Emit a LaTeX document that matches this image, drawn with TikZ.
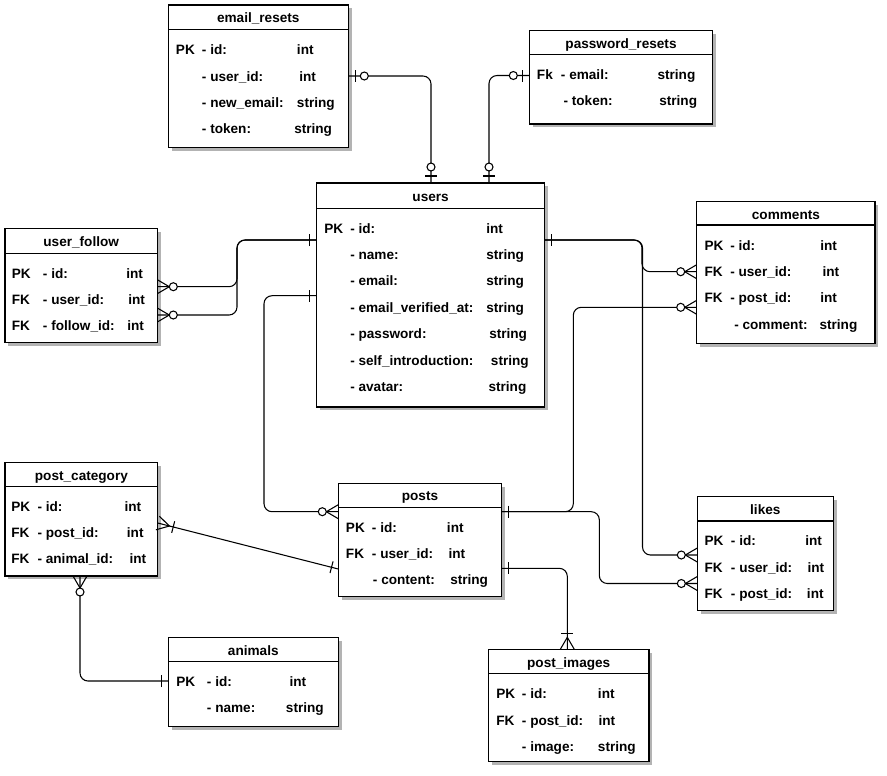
\documentclass[tikz,border=0pt]{standalone}
\usepackage{fontspec}
\setmainfont{Liberation Sans}
\usetikzlibrary{fit,shadows}
\newcommand\frow[8]{%
  \node[fld] (#1k) at (#3,#2) {#4};
  \node[fld] (#1f) at (#5,#2) {#6};
  \node[fld] (#1t) at (#7,#2) {#8};}
\begin{document}
\begin{tikzpicture}[x=0.75pt,y=-0.75pt,
  box/.style={draw=black, line width=1pt, fill=white, inner sep=0pt, outer sep=0pt,
    drop shadow={shadow xshift=2.5pt, shadow yshift=-2.5pt, opacity=0.4, fill=black!75}},
  sepline/.style={draw=black, line width=0.8pt},
  ttl/.style={anchor=base, inner sep=0pt, font=\bfseries\fontsize{10.2}{12}\selectfont},
  fld/.style={anchor=base west, inner sep=0pt, font=\bfseries\fontsize{10.2}{12}\selectfont},
  conn/.style={draw=black, line width=0.8pt, rounded corners=6pt},
  mk/.style={draw=black, line width=0.8pt},
  pics/one/.style={code={\draw[mk] (7,-6) -- (7,6);}},
  pics/zone/.style={code={\draw[mk] (7,-6) -- (7,6); \draw[mk, fill=white] (16,0) circle[radius=4];}},
  pics/zmany/.style={code={\draw[mk] (0,-7) -- (12,0) -- (0,7); \draw[mk, fill=white] (16,0) circle[radius=4];}},
  pics/omany/.style={code={\draw[mk] (0,-7) -- (12,0) -- (0,7); \draw[mk] (16,-6) -- (16,6);}},
]
\useasboundingbox (0,0) rectangle (887,775);

% ---------- tables ----------
\node[box, fit={(168.3,5) (348.3,147.7)}] (er) {};
\draw[sepline] (er.west |- 0,29.3) -- (er.east |- 0,29.3);
\node[ttl] (ert) at (258.3,22) {email\_resets};
\frow{er1}{54}{175.7}{PK}{201.7}{- id:}{296.7}{int}
\frow{er2}{81}{175.7}{}{201.7}{- user\_id:}{299}{int}
\frow{er3}{107}{175.7}{}{201.7}{- new\_email:}{296.7}{string}
\frow{er4}{133}{175.7}{}{201.7}{- token:}{294}{string}

\node[box, fit={(529.3,30.7) (712.7,124)}] (pr) {};
\draw[sepline] (pr.west |- 0,54.3) -- (pr.east |- 0,54.3);
\node[ttl] (prt) at (621,48.3) {password\_resets};
\frow{pr1}{79}{536.7}{Fk}{560.7}{- email:}{657.3}{string}
\frow{pr2}{105.7}{536.7}{}{563.3}{- token:}{659}{string}

\node[box, fit={(316.7,183) (544.5,407)}] (us) {};
\draw[sepline] (us.west |- 0,208.3) -- (us.east |- 0,208.3);
\node[ttl] (ust) at (430.6,201.7) {users};
\frow{us1}{233.3}{324}{PK}{350}{- id:}{486}{int}
\frow{us2}{259}{324}{}{350}{- name:}{486}{string}
\frow{us3}{285}{324}{}{350}{- email:}{486}{string}
\frow{us4}{312.7}{324}{}{350}{- email\_verified\_at:}{486}{string}
\frow{us5}{338.3}{324}{}{350}{- password:}{489}{string}
\frow{us6}{365.3}{324}{}{350}{- self\_introduction:}{490.7}{string}
\frow{us7}{391.7}{324}{}{350}{- avatar:}{488.3}{string}

\node[box, fit={(5,228.7) (157.3,342.3)}] (uf) {};
\draw[sepline] (uf.west |- 0,253.3) -- (uf.east |- 0,253.3);
\node[ttl] (uft) at (81.2,246.7) {user\_follow};
\frow{uf1}{278.3}{11.5}{PK}{42.7}{- id:}{126}{int}
\frow{uf2}{304}{11.5}{FK}{42.7}{- user\_id:}{128}{int}
\frow{uf3}{330.3}{11.5}{FK}{42.7}{- follow\_id:}{127}{int}

\node[box, fit={(696.7,201.7) (875,343.3)}] (cm) {};
\draw[sepline] (cm.west |- 0,225) -- (cm.east |- 0,225);
\node[ttl] (cmt) at (785.9,219.3) {comments};
\frow{cm1}{250}{704.3}{PK}{730}{- id:}{820}{int}
\frow{cm2}{276.7}{704.3}{FK}{730}{- user\_id:}{822.3}{int}
\frow{cm3}{302.7}{704.3}{FK}{730}{- post\_id:}{820}{int}
\frow{cm4}{329.3}{704.3}{}{734}{- comment:}{819.3}{string}

\node[box, fit={(5,462.7) (157.7,576)}] (pc) {};
\draw[sepline] (pc.west |- 0,486.7) -- (pc.east |- 0,486.7);
\node[ttl] (pct) at (81.4,480) {post\_category};
\frow{pc1}{511}{11}{PK}{37.3}{- id:}{124.3}{int}
\frow{pc2}{537.7}{11}{FK}{37.3}{- post\_id:}{126.7}{int}
\frow{pc3}{563.3}{11}{FK}{37.3}{- animal\_id:}{129.3}{int}

\node[box, fit={(338.3,483.3) (501.7,596.7)}] (po) {};
\draw[sepline] (po.west |- 0,507.3) -- (po.east |- 0,507.3);
\node[ttl] (pot) at (420,500) {posts};
\frow{po1}{532.3}{345.7}{PK}{371.7}{- id:}{446.7}{int}
\frow{po2}{558.3}{345.7}{FK}{371.7}{- user\_id:}{448.3}{int}
\frow{po3}{584.3}{345.7}{}{372.7}{- content:}{450}{string}

\node[box, fit={(697.3,496.7) (833.3,610.7)}] (lk) {};
\draw[sepline] (lk.west |- 0,521) -- (lk.east |- 0,521);
\node[ttl] (lkt) at (765.3,514.3) {likes};
\frow{lk1}{545.7}{704.3}{PK}{730.7}{- id:}{805}{int}
\frow{lk2}{572.3}{704.3}{FK}{730.7}{- user\_id:}{807.3}{int}
\frow{lk3}{598.3}{704.3}{FK}{730.7}{- post\_id:}{806.7}{int}

\node[box, fit={(168.3,637.7) (338.3,726.7)}] (an) {};
\draw[sepline] (an.west |- 0,661.7) -- (an.east |- 0,661.7);
\node[ttl] (ant) at (253.3,655.7) {animals};
\frow{an1}{686}{176}{PK}{206.7}{- id:}{289.3}{int}
\frow{an2}{712.3}{176}{}{206.7}{- name:}{285.7}{string}

\node[box, fit={(488.3,649.3) (649,761.7)}] (pi) {};
\draw[sepline] (pi.west |- 0,673.3) -- (pi.east |- 0,673.3);
\node[ttl] (pit) at (568.7,667.3) {post\_images};
\frow{pi1}{698.3}{496}{PK}{521.7}{- id:}{597.7}{int}
\frow{pi2}{725}{496}{FK}{521.7}{- post\_id:}{598.3}{int}
\frow{pi3}{751.7}{496}{}{521.7}{- image:}{597.7}{string}

% ---------- connectors ----------
% email_resets - users
\coordinate (e1) at (er.east |- 0,76);
\coordinate (e2) at (us.north -| 431,0);
\draw[conn] (e1) -| (e2);
% password_resets - users
\coordinate (p1) at (pr.west |- 0,75.5);
\coordinate (p2) at (us.north -| 489,0);
\draw[conn] (p1) -| (p2);
% user_follow - users
\coordinate (f1) at (uf.east |- 0,286.7);
\coordinate (f2) at (uf.east |- 0,315);
\coordinate (f3) at (us.west |- 0,240);
\draw[conn] (f1) -- (237,286.7) -- (237,240) -- (f3);
\draw[conn] (f2) -- (237,315) -- (237,240) -- (f3);
% users - posts
\coordinate (u1) at (us.west |- 0,295.7);
\coordinate (u2) at (po.west |- 0,511.7);
\draw[conn] (u1) -- (264,295.7) -- (264,511.7) -- (u2);
% users - comments / likes
\coordinate (u3) at (us.east |- 0,240);
\coordinate (c1) at (cm.west |- 0,271.7);
\coordinate (l1) at (lk.west |- 0,555);
\draw[conn] (u3) -- (642,240) -- (642,271.7) -- (c1);
\draw[conn] (u3) -- (642.5,240) -- (642.5,555) -- (l1);
% posts - comments / likes
\coordinate (q1) at (po.east |- 0,511.7);
\coordinate (c2) at (cm.west |- 0,307.3);
\coordinate (l2) at (lk.west |- 0,583.5);
\draw[conn] (q1) -- (573.3,511.7) -- (573.3,307.3) -- (c2);
\draw[conn] (q1) -- (599.3,511.7) -- (599.3,583.5) -- (l2);
% posts - post_images
\coordinate (q2) at (po.east |- 0,568.3);
\coordinate (i1) at (pi.north -| 567.3,0);
\draw[conn] (q2) -| (i1);
% post_category - posts
\coordinate (g1) at (pc.east |- 0,523);
\coordinate (g2) at (po.west |- 0,569);
\draw[conn] (g1) -- (g2);
% post_category - animals
\coordinate (g3) at (pc.south -| 80,0);
\coordinate (a1) at (an.west |- 0,681);
\draw[conn] (g3) |- (a1);

% ---------- end markers ----------
\pic at (e1) {zone};
\pic[rotate=90] at (e2) {zone};
\pic[rotate=180] at (p1) {zone};
\pic[rotate=90] at (p2) {zone};
\pic at (f1) {zmany};
\pic at (f2) {zmany};
\pic[rotate=180] at (f3) {one};
\pic[rotate=180] at (u1) {one};
\pic[rotate=180] at (u2) {zmany};
\pic at (u3) {one};
\pic[rotate=180] at (c1) {zmany};
\pic[rotate=180] at (l1) {zmany};
\pic at (q1) {one};
\pic[rotate=180] at (c2) {zmany};
\pic[rotate=180] at (l2) {zmany};
\pic at (q2) {one};
\pic[rotate=90] at (i1) {omany};
\pic[rotate=-14.6] at (g1) {omany};
\pic[rotate=165.4] at (g2) {one};
\pic[rotate=-90] at (g3) {zmany};
\pic[rotate=180] at (a1) {one};
\end{tikzpicture}
\end{document}
